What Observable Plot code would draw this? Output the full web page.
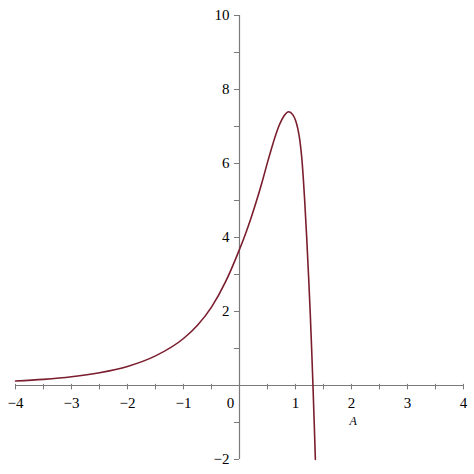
<!DOCTYPE html>
<html>
<head>
<meta charset="utf-8">
<script src="https://cdn.jsdelivr.net/npm/d3@7"></script>
<script src="https://cdn.jsdelivr.net/npm/@observablehq/plot@0.6"></script>
<style>
  html, body { margin: 0; padding: 0; background: #fff; }
  svg text { font-family: "Liberation Serif", "Times New Roman", "DejaVu Serif", serif; }
</style>
</head>
<body>
<div id="chart"></div>
<script>
const aValues = [-4, -3.5, -3, -2.5, -2, -1.5, -1, -0.75, -0.5, -0.25, 0, 0.1, 0.2, 0.3, 0.4, 0.5, 0.6, 0.7, 0.8, 0.88, 0.95, 1.0, 1.04, 1.077, 1.115, 1.141, 1.164, 1.2, 1.232, 1.262, 1.288, 1.312, 1.334, 1.355];
const fValues = [0.12, 0.165, 0.235, 0.345, 0.515, 0.8, 1.27, 1.63, 2.12, 2.8, 3.68, 4.07, 4.5, 4.97, 5.48, 6.03, 6.55, 7.0, 7.3, 7.4, 7.32, 7.17, 6.95, 6.63, 6.1, 5.56, 5.0, 4.0, 3.0, 2.0, 1.0, 0, -1, -2];

const xTickLabels = [-4, -3, -2, -1, 1, 2, 3, 4];
const xTicks = [-4, -3.5, -3, -2.5, -2, -1.5, -1, -0.5, 0.5, 1, 1.5, 2, 2.5, 3, 3.5, 4];
const yTickLabels = [-2, 2, 4, 6, 8, 10];
const yTicks = [-2, -1, 1, 2, 3, 4, 5, 6, 7, 8, 9, 10];

const data = aValues.map((a, i) => ({a, f: fValues[i]}));
const fmt = v => (v < 0 ? "\u2212" + Math.abs(v) : String(v));
const font = "Liberation Serif";
const axisColor = "#7a7a7a";

const chart = Plot.plot({
  width: 474,
  height: 474,
  marginLeft: 15,
  marginRight: 11,
  marginTop: 15,
  marginBottom: 15,
  style: {background: "#fff", fontFamily: font},
  x: {domain: [-4, 4], axis: null},
  y: {domain: [-2, 10], axis: null},
  marks: [
    Plot.ruleY([0], {x1: -4, x2: 4, stroke: axisColor, strokeWidth: 1.2}),
    Plot.ruleX([0], {y1: -2, y2: 10, stroke: axisColor, strokeWidth: 1.2}),
    Plot.ruleX(xTicks, {x: d => d, y1: 0.03, y2: -0.12, stroke: axisColor}),
    Plot.ruleY(yTicks, {y: d => d, x1: 0, x2: -0.09, stroke: axisColor}),
    Plot.text(xTickLabels, {x: d => d, y: 0, dy: 18, text: d => fmt(d), fontSize: 15, fontFamily: font}),
    Plot.text([0], {x: 0, y: 0, dx: -9, dy: 18, text: d => "0", fontSize: 15, fontFamily: font}),
    Plot.text(yTickLabels, {x: 0, y: d => d, dx: -10, textAnchor: "end", text: d => fmt(d), fontSize: 15, fontFamily: font}),
    Plot.text(["A"], {x: 2.03, y: 0, dy: 36, text: d => d, fontSize: 12, fontStyle: "italic", fontFamily: font}),
    Plot.line(data, {x: "a", y: "f", curve: "monotone-x", stroke: "#7a1e2e", strokeWidth: 1.6})
  ]
});
document.getElementById("chart").appendChild(chart);
</script>
</body>
</html>
